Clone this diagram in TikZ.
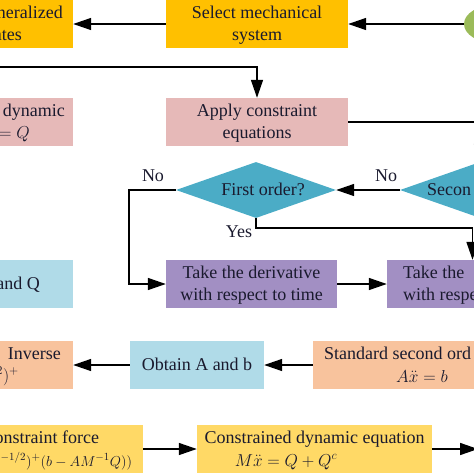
\documentclass[tikz,border=0pt]{standalone}
\usepackage{fontspec}
\setmainfont{Liberation Serif}
\usetikzlibrary{arrows.meta,shapes.geometric}
\definecolor{txt}{HTML}{1A1A2E}
\definecolor{cOrange}{HTML}{FFC000}
\definecolor{cPink}{HTML}{E6B9B8}
\definecolor{cTeal}{HTML}{4BACC6}
\definecolor{cPurple}{HTML}{A28FC3}
\definecolor{cBlue}{HTML}{B0DBE8}
\definecolor{cSalmon}{HTML}{F8C39D}
\definecolor{cYellow}{HTML}{FFD966}
\definecolor{cGreen}{HTML}{9BBB59}
\begin{document}
\begin{tikzpicture}[x=1pt,y=-1pt,
  font=\fontsize{18}{22}\selectfont,
  box/.style={rectangle, draw=none, inner sep=0pt, minimum height=48pt},
  frag/.style={inner sep=0pt, text height=12pt, text depth=4pt, text=txt},
  dia/.style={diamond, fill=cTeal, draw=none, minimum width=160pt, minimum height=56pt, inner sep=0pt},
  conn/.style={draw=black, line width=1.5pt, -{Triangle[length=18pt,width=12pt]}}
]
\useasboundingbox (0,0) rectangle (474,474);
\clip (0,0) rectangle (474,474);

% row 1
\node[box, fill=cOrange, minimum width=182pt] (gencoord) at (-18,24) {};
\node[frag, anchor=east] (gencoordA) at (63,14.5) {neralized};
\node[frag, anchor=east] (gencoordB) at (22,36.5) {ates};
\node[box, fill=cOrange, minimum width=182pt] (select) at (257,24) {};
\node[frag] (selectA) at (257,14.5) {Select mechanical};
\node[frag] (selectB) at (257,36.5) {system};
\node[ellipse, fill=cGreen, draw=none, minimum width=62pt, minimum height=38pt, inner sep=0pt] (start) at (495,24) {};

% row 2
\node[box, fill=cPink, minimum width=182pt] (dyn) at (-18,122) {};
\node[frag, anchor=east] (dynA) at (65,112.5) {dynamic};
\node[frag, anchor=east] (dynB) at (30,134.5) {$=Q$};
\node[box, fill=cPink, minimum width=182pt] (apply) at (257,122) {};
\node[frag] (applyA) at (257,112.5) {Apply constraint};
\node[frag] (applyB) at (257,134.5) {equations};

% row 3 diamonds
\node[dia] (first) at (256,190) {};
\node[frag] (firstT) at (263,191) {First order?};
\node[dia] (second) at (480,190) {};
\node[frag, anchor=west] (secondT) at (427,191) {Secon};

% row 4
\node[box, fill=cBlue, minimum width=182pt] (AQ) at (-18,284) {};
\node[frag, anchor=east] (AQT) at (40,285) {and Q};
\node[box, fill=cPurple, minimum width=171pt] (deriv1) at (251.5,284) {};
\node[frag] (deriv1A) at (251.5,274.5) {Take the derivative};
\node[frag] (deriv1B) at (251.5,296.5) {with respect to time};
\node[box, fill=cPurple, minimum width=171pt] (deriv2) at (472.5,284) {};
\node[frag, anchor=west] (deriv2A) at (403,274.5) {Take the};
\node[frag, anchor=west] (deriv2B) at (403,296.5) {with respe};

% row 5
\node[box, fill=cSalmon, minimum width=182pt] (inverse) at (-18,365) {};
\node[frag, anchor=east] (inverseA) at (61,355) {Inverse};
\node[frag, anchor=east] (inverseB) at (19,377) {${}^{2})^{+}$};
\node[box, fill=cBlue, minimum width=134pt] (obtain) at (197,365) {};
\node[frag] (obtainT) at (197,366) {Obtain A and b};
\node[box, fill=cSalmon, minimum width=218pt] (standard) at (422,365) {};
\node[frag, anchor=west] (standardA) at (324,355) {Standard second ord};
\node[frag] (standardB) at (422,378) {$A\ddot{x}=b$};

% row 6
\node[box, fill=cYellow, minimum width=235pt] (force) at (25.5,449) {};
\node[frag, anchor=west] (forceA) at (0,439) {\hspace{-5.5pt}onstraint force};
\node[frag, anchor=west] (forceB) at (0.5,462) {\fontsize{15.5}{22}\selectfont${}^{-1/2})^{+}(b-AM^{-1}Q))$};
\node[box, fill=cYellow, minimum width=235pt] (constrained) at (314.5,449) {};
\node[frag] (constrainedA) at (314.5,439) {Constrained dynamic equation};
\node[frag] (constrainedB) at (286,462) {$M\ddot{x}=Q+Q^{c}$};
\coordinate (nextR) at (478,449);

% connectors
\draw[conn] (start.west) -- (select.east);
\draw[conn] (select.west) -- (gencoord.east);
\draw[conn] (gencoord.south) -- ++(0,19) -| (apply.north);
\draw[conn] (apply.east) -| (second.north);
\draw[conn] (second.west) -- (first.east);
\node[frag] (noB) at (386,177) {No};
\draw[conn] (first.west) -- ++(-47,0) |- (deriv1.west);
\node[frag] (noA) at (153,177) {No};
\draw[conn] (first.south) -- ++(0,10) -| (deriv2.north);
\node[frag] (yesA) at (239,233) {Yes};
\draw[conn] (deriv1.east) -- (deriv2.west);
\draw[conn] (standard.west) -- (obtain.east);
\draw[conn] (obtain.west) -- (inverse.east);
\draw[conn] (force.east) -- (constrained.west);
\draw[conn] (constrained.east) -- (nextR);
\end{tikzpicture}
\end{document}
